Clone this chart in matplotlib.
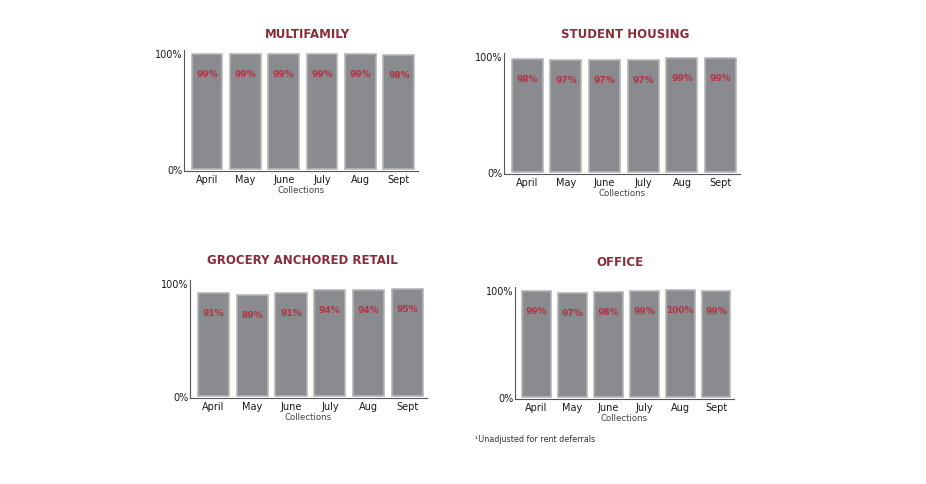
import matplotlib.pyplot as plt

months = ['April', 'May', 'June', 'July', 'Aug', 'Sept']

multifamily = [99, 99, 99, 99, 99, 98]
student_housing = [98, 97, 97, 97, 99, 99]
grocery_retail = [91, 89, 91, 94, 94, 95]
office = [99, 97, 98, 99, 100, 99]

W, H = 926, 485
fig = plt.figure(figsize=(W / 100, H / 100), dpi=100)
plt.rcParams['font.family'] = ['DejaVu Sans']

title_color = '#8c2b38'
value_color = '#b23345'
bar_color = '#8a8b8f'

# (title, data, left px, right px, top px, bottom px, title x, title y)
panels = [
    ('MULTIFAMILY', multifamily, 184, 418, 50.5, 172.3, 308, 35),
    ('STUDENT HOUSING', student_housing, 504, 740, 54, 175.3, 625, 35),
    ('GROCERY ANCHORED RETAIL', grocery_retail, 190, 427, 280.6, 399.3, 302, 260),
    ('OFFICE', office, 515, 734, 288, 400, 620, 263),
]

for titulo, valores, l, r, t, b, tx, ty in panels:
    ax = fig.add_axes([l / W, 1 - b / H, (r - l) / W, (b - t) / H])
    x = range(len(months))
    ax.bar(x, valores, width=0.8, color=bar_color,
           edgecolor='#b4b5b8', linewidth=1.2)
    for xi, v in zip(x, valores):
        ax.annotate(f'{v}%', (xi, v), xytext=(0, -14), textcoords='offset points',
                    ha='center', va='center', fontsize=6.5, fontweight='bold',
                    color=value_color)
    ax.set_xlim(-0.6, 5.5)
    ax.set_ylim(-2, 103)
    ax.set_yticks([0, 100])
    ax.set_yticklabels(['0%', '100%'])
    ax.set_xticks(list(x))
    ax.set_xticklabels(months)
    ax.tick_params(length=0, labelsize=7, colors='#1a1a1a', pad=2)
    ax.tick_params(axis='y', pad=1)
    for s in ['top', 'right']:
        ax.spines[s].set_visible(False)
    for s in ['left', 'bottom']:
        ax.spines[s].set_color('#555555')
        ax.spines[s].set_linewidth(0.8)
    ax.set_xlabel('Collections', fontsize=6.2, color='#444444', labelpad=1)
    fig.text(tx / W, 1 - ty / H, titulo, ha='center', va='center',
             fontsize=8.5, fontweight='bold', color=title_color)

fig.text(475 / W, 1 - 440 / H, '\u00b9Unadjusted for rent deferrals',
         ha='left', va='center', fontsize=5.8, color='#333333')

plt.savefig('out.png', dpi=100)
